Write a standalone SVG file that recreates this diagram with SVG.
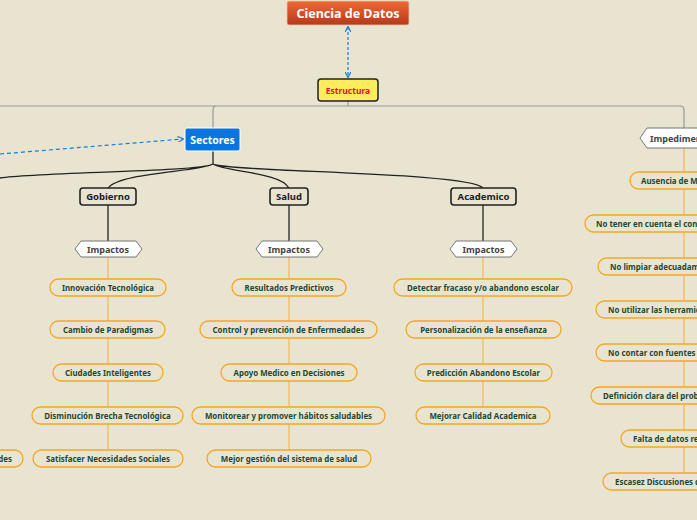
<svg xmlns="http://www.w3.org/2000/svg" width="697" height="520" viewBox="0 0 697 520">
<defs>
<linearGradient id="rg" x1="0" y1="0" x2="0" y2="1"><stop offset="0" stop-color="#ee6a36"/><stop offset="1" stop-color="#b8381a"/></linearGradient>
<marker id="ab" viewBox="0 0 10 10" refX="9" refY="5" markerWidth="5" markerHeight="5" orient="auto-start-reverse"><path d="M0,0L10,5L0,10" fill="none" stroke="#1a7ce0" stroke-width="2"/></marker>
<style>
text{font-family:"Noto Sans","DejaVu Sans",sans-serif;font-weight:bold;text-anchor:middle;dominant-baseline:central}
.sec{fill:none;stroke:#222;stroke-width:1.3}
.br{fill:none;stroke:#999;stroke-width:1.2}
.ol{fill:none;stroke:#f5b85c;stroke-width:1.2}
.mid rect{fill:#e8e4d0;stroke:#222;stroke-width:1.6}
.mid text{font-size:9.5px;fill:#222}
.hex polygon{fill:#fff;stroke:#777;stroke-width:1}
.hex text{font-size:9px;fill:#444}
.pill rect{fill:#e8e4d0;stroke:#f5a623;stroke-width:1.3}
.pill text{font-size:7.9px;fill:#1d4a35}
</style>
</defs>
<rect width="697" height="520" fill="#e8e4d0"/>
<g id="connectors">
<path class="br" d="M0,106H680Q684,106 684,110V128M348,101V106M213,128V110Q213,106 217,106"/>
<path d="M348,27V77" stroke="#1a7ce0" stroke-width="1.2" stroke-dasharray="3,2" fill="none" marker-start="url(#ab)" marker-end="url(#ab)"/>
<path d="M0,154L183,139" stroke="#1a7ce0" stroke-width="1.2" stroke-dasharray="4,3" fill="none" marker-end="url(#ab)"/>
<path class="sec" d="M213,151V164M213,164C200,172 40,172 0,178M213,164C200,172 120,172 108,188M213,164C226,172 280,172 289,188M213,164C226,172 470,172 483,188"/>
<path class="sec" d="M108,205V241M289,205V241M483,205V241"/>
<path class="ol" d="M108,257V458M289,257V458M483,257V415M684,148V481"/>
</g>
<g id="ciencia"><rect x="287" y="1" width="122" height="24" rx="2" fill="url(#rg)" stroke="#f3c0a8" stroke-width="0.8"/><text x="348" y="13.5" font-size="12.5" fill="#fff">Ciencia de Datos</text></g>
<g id="estructura"><rect x="318" y="79" width="60" height="22" rx="3" fill="#ffec5c" stroke="#222" stroke-width="1.5"/><text x="348" y="90.5" font-size="8.5" fill="#e0103a">Estructura</text></g>
<g id="sectores"><rect x="185" y="128" width="55" height="23" rx="2" fill="#0a74e0" stroke="#fff" stroke-width="1"/><text x="212.5" y="140" font-size="10.5" fill="#fff">Sectores</text></g>
<g id="gobierno" class="mid"><rect x="80" y="188" width="56" height="17" rx="3"/><text x="108" y="196.5">Gobierno</text></g>
<g id="salud" class="mid"><rect x="270" y="188" width="38" height="17" rx="3"/><text x="289" y="196.5">Salud</text></g>
<g id="academico" class="mid"><rect x="451" y="188" width="65" height="17" rx="3"/><text x="483.5" y="196.5">Academico</text></g>
<g id="imp1" class="hex"><polygon points="75,249 81,241 136,241 142,249 136,257 81,257"/><text x="108" y="249">Impactos</text></g>
<g id="imp2" class="hex"><polygon points="256,249 262,241 317,241 323,249 317,257 262,257"/><text x="289" y="249">Impactos</text></g>
<g id="imp3" class="hex"><polygon points="450,249 456,241 511,241 517,249 511,257 456,257"/><text x="483.5" y="249">Impactos</text></g>
<g id="impedimentos" class="hex"><polygon points="640,138 647,128 710,128 717,138 710,148 647,148"/><text x="650" y="138" style="text-anchor:start">Impedimentos</text></g>
<g id="g1" class="pill"><rect x="50" y="279" width="116" height="17" rx="8.5"/><text x="108" y="287.5">Innovación Tecnológica</text></g>
<g id="g2" class="pill"><rect x="50" y="321" width="115" height="17" rx="8.5"/><text x="108" y="329.5">Cambio de Paradigmas</text></g>
<g id="g3" class="pill"><rect x="53" y="364" width="110" height="17" rx="8.5"/><text x="108" y="372.5">Ciudades Inteligentes</text></g>
<g id="g4" class="pill"><rect x="32" y="407" width="151" height="17" rx="8.5"/><text x="107.5" y="415.5">Disminución Brecha Tecnológica</text></g>
<g id="g5" class="pill"><rect x="33" y="450" width="150" height="17" rx="8.5"/><text x="108" y="458.5">Satisfacer Necesidades Sociales</text></g>
<g id="lx" class="pill"><rect x="-80" y="450" width="103" height="17" rx="8.5"/><text x="12" y="458.5" style="text-anchor:end">Necesidades</text></g>
<g id="s1" class="pill"><rect x="232" y="279" width="114" height="17" rx="8.5"/><text x="289" y="287.5">Resultados Predictivos</text></g>
<g id="s2" class="pill"><rect x="200" y="321" width="177" height="17" rx="8.5"/><text x="288.5" y="329.5">Control y prevención de Enfermedades</text></g>
<g id="s3" class="pill"><rect x="221" y="364" width="136" height="17" rx="8.5"/><text x="289" y="372.5">Apoyo Medico en Decisiones</text></g>
<g id="s4" class="pill"><rect x="192" y="407" width="193" height="17" rx="8.5"/><text x="288.5" y="415.5">Monitorear y promover hábitos saludables</text></g>
<g id="s5" class="pill"><rect x="207" y="450" width="164" height="17" rx="8.5"/><text x="289" y="458.5">Mejor gestión del sistema de salud</text></g>
<g id="a1" class="pill"><rect x="394" y="279" width="178" height="17" rx="8.5"/><text x="483" y="287.5">Detectar fracaso y/o abandono escolar</text></g>
<g id="a2" class="pill"><rect x="406" y="321" width="155" height="17" rx="8.5"/><text x="483.5" y="329.5">Personalización de la enseñanza</text></g>
<g id="a3" class="pill"><rect x="415" y="364" width="137" height="17" rx="8.5"/><text x="483.5" y="372.5">Predicción Abandono Escolar</text></g>
<g id="a4" class="pill"><rect x="416" y="407" width="134" height="17" rx="8.5"/><text x="483" y="415.5">Mejorar Calidad Academica</text></g>
<g id="r1" class="pill"><rect x="630" y="172" width="120" height="17" rx="8.5"/><text x="641" y="180.5" style="text-anchor:start">Ausencia de Metodología</text></g>
<g id="r2" class="pill"><rect x="585" y="215" width="160" height="17" rx="8.5"/><text x="596" y="223.5" style="text-anchor:start">No tener en cuenta el contexto</text></g>
<g id="r3" class="pill"><rect x="598" y="258" width="150" height="17" rx="8.5"/><text x="610" y="266.5" style="text-anchor:start">No limpiar adecuadamente</text></g>
<g id="r4" class="pill"><rect x="596" y="301" width="150" height="17" rx="8.5"/><text x="608" y="309.5" style="text-anchor:start">No utilizar las herramientas</text></g>
<g id="r5" class="pill"><rect x="596" y="344" width="150" height="17" rx="8.5"/><text x="608" y="352.5" style="text-anchor:start">No contar con fuentes</text></g>
<g id="r6" class="pill"><rect x="591" y="387" width="160" height="17" rx="8.5"/><text x="603" y="395.5" style="text-anchor:start">Definición clara del problema</text></g>
<g id="r7" class="pill"><rect x="621" y="430" width="130" height="17" rx="8.5"/><text x="633" y="438.5" style="text-anchor:start">Falta de datos reales</text></g>
<g id="r8" class="pill"><rect x="603" y="473" width="150" height="17" rx="8.5"/><text x="615" y="481.5" style="text-anchor:start">Escasez Discusiones de</text></g>
</svg>
